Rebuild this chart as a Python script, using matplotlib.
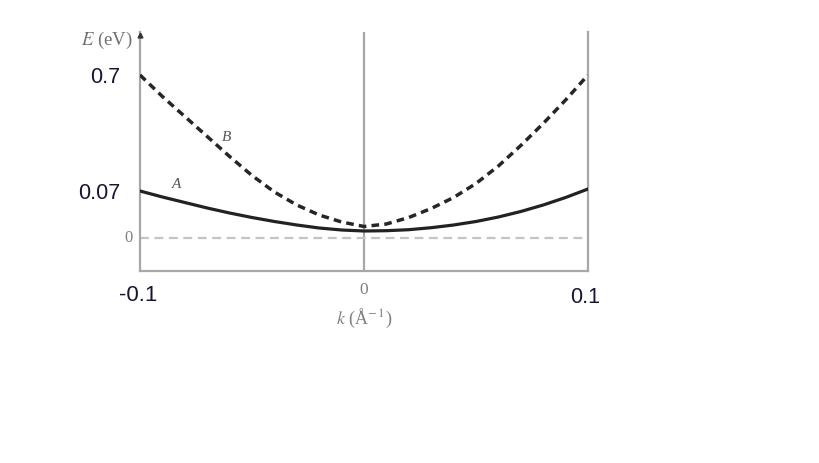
import matplotlib
matplotlib.use("Agg")
import matplotlib.pyplot as plt

# Schematic band diagram.
# E values are drawn heights (schematic axis, not linear in eV).
K = [-0.10, -0.09, -0.08, -0.07, -0.06, -0.05, -0.04, -0.03, -0.02, -0.01, 0.00,
     0.01, 0.02, 0.03, 0.04, 0.05, 0.06, 0.07, 0.08, 0.09, 0.10]
E_A = [46.5, 40.5, 35, 29.5, 24.5, 20, 16, 12.5, 9.5, 7.5, 6.5,
       6.8, 7.8, 9.8, 12.5, 16, 20.5, 26, 32.5, 40, 48.5]
E_B = [162.5, 141, 121, 101, 81, 62, 45.5, 32.5, 22.5, 15.5, 11,
       13.5, 20, 29, 40, 54, 71.5, 92, 114, 137.5, 162.5]

Y_TICKS = [0, 46.5, 162.5]
Y_LABELS = ["0", "0.07", "0.7"]
X_TICKS = [-0.1, 0.0, 0.1]
X_LABELS = ["-0.1", "0", "0.1"]

GRAY = "#a8a8a8"
TXT_GRAY = "#808080"
NAVY = "#151535"
SANS = "Liberation Sans"
SERIF = "Liberation Serif"

fig = plt.figure(figsize=(8.2, 4.64), dpi=100)
ax = fig.add_axes([140 / 820, 192 / 464, 448 / 820, 239 / 464])
ax.set_xlim(-0.1, 0.1)
ax.set_ylim(-33.5, 205.5)

ax.spines["top"].set_visible(False)
for side in ["left", "bottom", "right"]:
    ax.spines[side].set_color(GRAY)
    ax.spines[side].set_linewidth(1.6)

# reference lines
ax.axvline(0, color=GRAY, lw=1.6, zorder=1)
ax.axhline(0, color="#c4c4c4", lw=1.6, dashes=(4, 2.5), zorder=1)

ax.plot(K, E_A, color="#222222", lw=2.3, solid_capstyle="round",
        solid_joinstyle="round", zorder=3)
ax.plot(K, E_B, color="#262626", lw=2.5, dashes=(2.2, 1.5), zorder=3)

# arrow at top of energy axis
ax.plot([-0.1], [203], marker="^", ms=3.5, color="#333333", clip_on=False, zorder=5)

ax.set_xticks([])
ax.set_yticks([])

# y labels
ytrans = ("axes fraction", "data")
for val, lab in zip(Y_TICKS[1:], Y_LABELS[1:]):
    ax.annotate(lab, xy=(0, val), xycoords=ytrans, xytext=(-14, -1),
                textcoords="offset points", ha="right", va="center",
                fontsize=15.5, family=SANS, color=NAVY)
ax.annotate(Y_LABELS[0], xy=(0, Y_TICKS[0]), xycoords=ytrans, xytext=(-5.5, 0),
            textcoords="offset points", ha="right", va="center",
            fontsize=12, family=SERIF, color=TXT_GRAY)

# x labels
xtrans = ("data", "axes fraction")
ax.annotate(X_LABELS[0], xy=(X_TICKS[0], 0), xycoords=xtrans, xytext=(-1, -9.5),
            textcoords="offset points", ha="center", va="top",
            fontsize=16, family=SANS, color=NAVY)
ax.annotate(X_LABELS[2], xy=(X_TICKS[2], 0), xycoords=xtrans, xytext=(-2, -10.5),
            textcoords="offset points", ha="center", va="top",
            fontsize=15.5, family=SANS, color=NAVY)
ax.annotate(X_LABELS[1], xy=(X_TICKS[1], 0), xycoords=xtrans, xytext=(0, -7.5),
            textcoords="offset points", ha="center", va="top",
            fontsize=12.5, family=SERIF, color=TXT_GRAY)

# axis titles
ax.annotate(r"$\mathit{k}$ (Å$^{-\,1}$)", xy=(0.5, 0), xycoords="axes fraction",
            xytext=(0, -25), textcoords="offset points", ha="center", va="top",
            fontsize=13, family=SERIF, color=TXT_GRAY, math_fontfamily="stix")
ax.annotate(r"$\mathit{E}$ (eV)", xy=(0, 1), xycoords="axes fraction",
            xytext=(-5, 2), textcoords="offset points", ha="right", va="top",
            fontsize=13.5, family=SERIF, color="#707070", math_fontfamily="stix")

# curve labels
ax.text(-0.0835, 54, "A", fontsize=11, family=SERIF, style="italic",
        color="#555555", ha="center", va="center")
ax.text(-0.0615, 101, "B", fontsize=11, family=SERIF, style="italic",
        color="#555555", ha="center", va="center")

fig.savefig("out.png", dpi=100)
